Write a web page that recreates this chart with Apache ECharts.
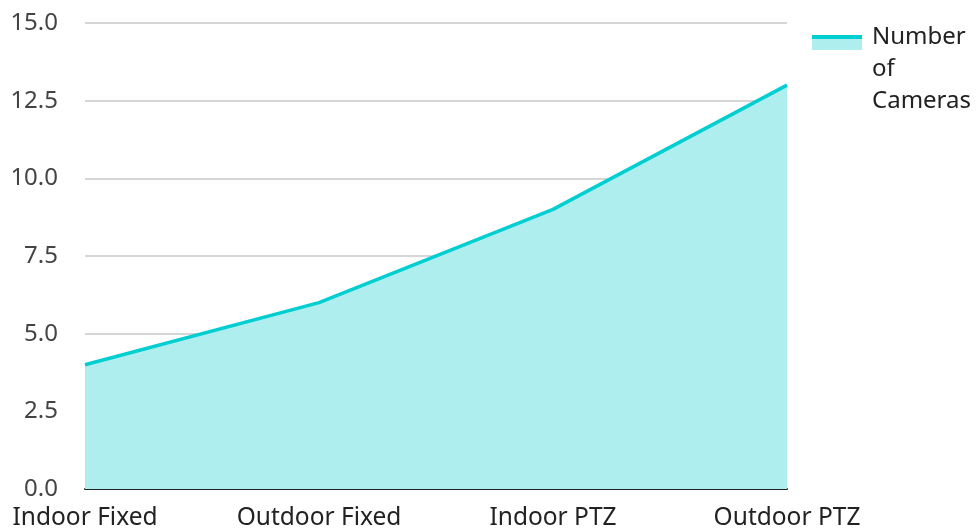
<!DOCTYPE html>
<html>
<head>
<meta charset="utf-8">
<script src="https://cdn.jsdelivr.net/npm/echarts@6/dist/echarts.min.js"></script>
<style>
  html, body { margin: 0; padding: 0; background: #fff; }
  #chart { width: 977px; height: 531px; }
</style>
</head>
<body>
<div id="chart"></div>
<script>
// data
const categories = ["Indoor Fixed", "Outdoor Fixed", "Indoor PTZ", "Outdoor PTZ"]
const cameraCounts = [4, 6, 9, 13]
const seriesName = "Number of Cameras"

const chart = echarts.init(document.getElementById("chart"), null, { renderer: "canvas" })

const font = "'Noto Sans', sans-serif"

// legend icons: box 55x96 so the swatch sits on the first text line
const pin = " M0,0 L0.01,0 L0,0.01 Z M55,96 L54.99,96 L55,95.99 Z"
const fillIcon = "path://M0,15 L50,15 L50,29 L0,29 Z" + pin
const lineIcon = "path://M0,14 L50,14 L50,18 L0,18 Z" + pin

const legendBase = {
  left: 812, top: 21,
  padding: 0,
  orient: "vertical",
  itemWidth: 55, itemHeight: 96,
  formatter: (name) => name.split(" ").join("\n"),
  data: [seriesName]
}

const option = {
  backgroundColor: "#fff",
  animation: false,
  grid: { left: 85, right: 190, top: 23, bottom: 41, containLabel: false },
  legend: [
    Object.assign({}, legendBase, {
      icon: fillIcon,
      itemStyle: { color: "#AFEEEE" },
      textStyle: { fontFamily: font, fontSize: 24, color: "#222", lineHeight: 32 }
    }),
    Object.assign({}, legendBase, {
      icon: lineIcon,
      selectedMode: false,
      itemStyle: { color: "#00CED1" },
      textStyle: { fontFamily: font, fontSize: 24, color: "rgba(0,0,0,0)", lineHeight: 32 }
    })
  ],
  xAxis: {
    type: "category",
    data: categories,
    boundaryGap: false,
    axisLine: { lineStyle: { color: "#222", width: 2 } },
    axisTick: { show: false },
    axisLabel: { fontFamily: font, fontSize: 24.5, color: "#222", margin: 17 }
  },
  yAxis: {
    type: "value",
    min: 0, max: 15, interval: 2.5,
    axisLine: { show: false },
    axisTick: { show: false },
    splitLine: { lineStyle: { color: "#c8c8c8", width: 1.5 } },
    axisLabel: {
      fontFamily: font, fontSize: 24, color: "#444", margin: 27,
      formatter: (v) => v.toFixed(1)
    }
  },
  series: [
    {
      name: seriesName,
      type: "line",
      data: cameraCounts,
      symbol: "none",
      lineStyle: { color: "#00CED1", width: 3.5 },
      itemStyle: { color: "#00CED1" },
      areaStyle: { color: "#AFEEEE", opacity: 1 }
    }
  ]
}

chart.setOption(option)

window.onresize = () => {
  chart.resize()
}
</script>
</body>
</html>
